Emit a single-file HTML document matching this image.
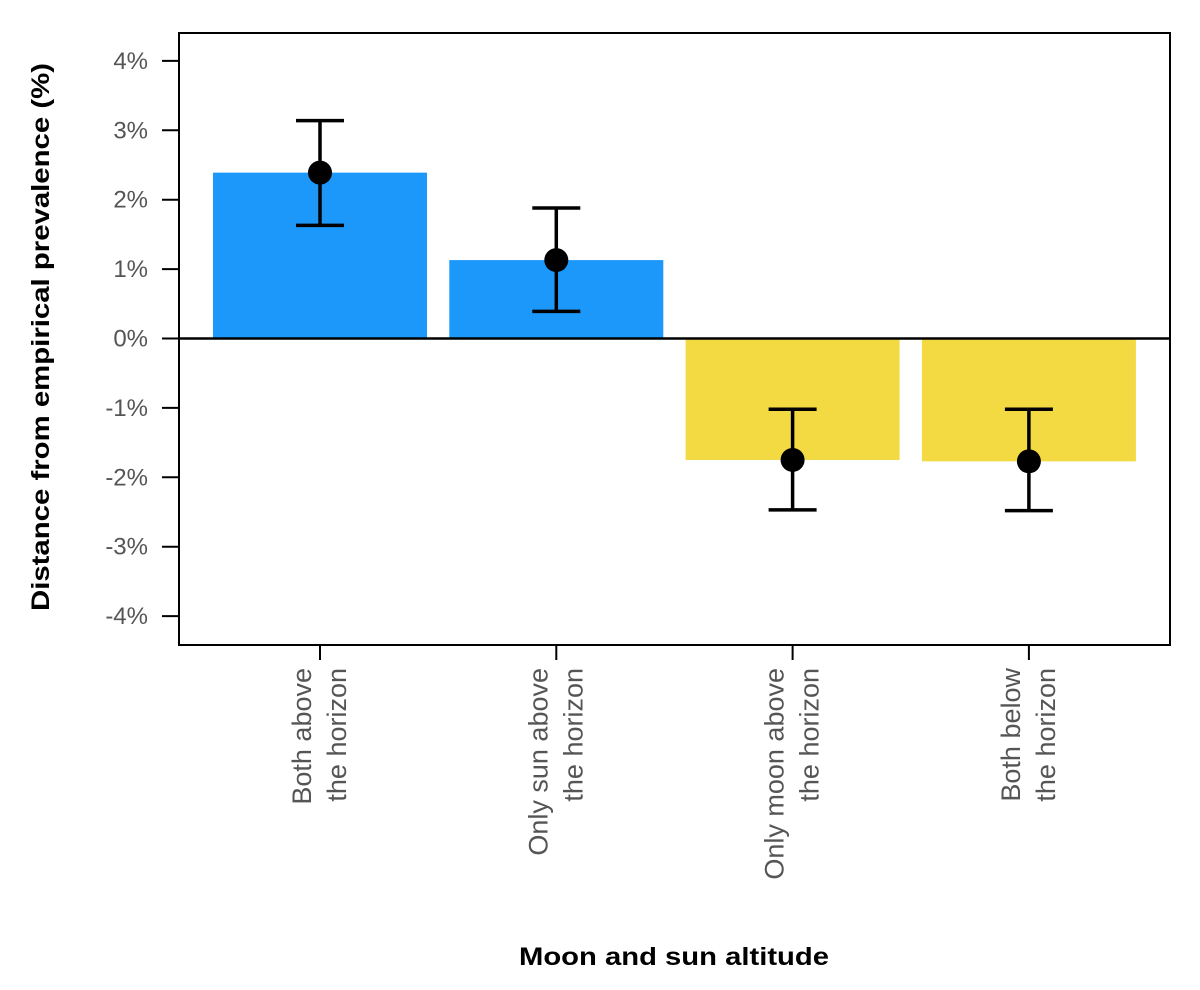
<!DOCTYPE html>
<html><head><meta charset="utf-8"><style>
body{margin:0;background:#fff}
svg{display:block;font-family:"Liberation Sans",sans-serif}
</style></head><body>
<svg id="chart" width="1200" height="990" viewBox="0 0 1200 990" xmlns="http://www.w3.org/2000/svg">
<rect x="179" y="33" width="991" height="612" fill="#fff" stroke="#000" stroke-width="2"/>
<g id="bars"></g><g id="yaxis"></g><g id="xaxis"></g>
<text transform="translate(49,337) rotate(-90)" text-anchor="middle" font-size="25" font-weight="bold" textLength="548" lengthAdjust="spacingAndGlyphs">Distance from empirical prevalence (%)</text>
<text x="674" y="965" text-anchor="middle" font-size="25" font-weight="bold" textLength="310" lengthAdjust="spacingAndGlyphs">Moon and sun altitude</text>
</svg>
<script>
const categories=[["Both above","the horizon"],["Only sun above","the horizon"],["Only moon above","the horizon"],["Both below","the horizon"]];
const values=[2.39,1.13,-1.75,-1.77];
const lower=[1.63,0.39,-2.47,-2.48];
const upper=[3.14,1.88,-1.02,-1.02];
const yTicks=[4,3,2,1,0,-1,-2,-3,-4];
const ns="http://www.w3.org/2000/svg";
const y=v=>338.5-v*69.4;
const x=i=>320+i*236.3;
function mk(t,a,p){const e=document.createElementNS(ns,t);for(const k in a)e.setAttribute(k,a[k]);p.appendChild(e);return e;}
const gb=document.getElementById('bars'),gy=document.getElementById('yaxis'),gx=document.getElementById('xaxis');
values.forEach((v,i)=>{
 const r=mk('rect',{x:x(i)-107,y:Math.min(y(v),y(0)),width:214,height:Math.abs(y(v)-y(0)),fill:v>=0?'#1b98f9':'#f3d942'},gb);
 
 
});
const zl=mk('line',{x1:179,x2:1170,y1:y(0),y2:y(0),stroke:'#000','stroke-width':2.5},gb);


values.forEach((v,i)=>{
 const g=mk('g',{stroke:'#000','stroke-width':3.5},gb);
 
 
 mk('line',{x1:x(i),x2:x(i),y1:y(upper[i]),y2:y(lower[i])},g);
 mk('line',{x1:x(i)-24,x2:x(i)+24,y1:y(upper[i]),y2:y(upper[i])},g);
 mk('line',{x1:x(i)-24,x2:x(i)+24,y1:y(lower[i]),y2:y(lower[i])},g);
 const c=mk('circle',{cx:x(i),cy:y(v),r:12,fill:'#000'},gb);
 
 
});
yTicks.forEach(t=>{
 mk('line',{x1:162,x2:179,y1:y(t),y2:y(t),stroke:'#000','stroke-width':2},gy);
 const tx=mk('text',{x:148,y:y(t)+8,'text-anchor':'end','font-size':24,fill:'#555'},gy);
 tx.textContent=t+'%';
 
 
});
categories.forEach((c,i)=>{
 mk('line',{x1:x(i),x2:x(i),y1:645,y2:660,stroke:'#000','stroke-width':2},gx);
 c.forEach((s,j)=>{
  const tx=mk('text',{transform:`translate(${x(i)-9+j*35},${668}) rotate(-90)`,'text-anchor':'end','font-size':27,fill:'#555'},gx);
  tx.textContent=s;
  
  
 });
});
</script>
</body></html>
